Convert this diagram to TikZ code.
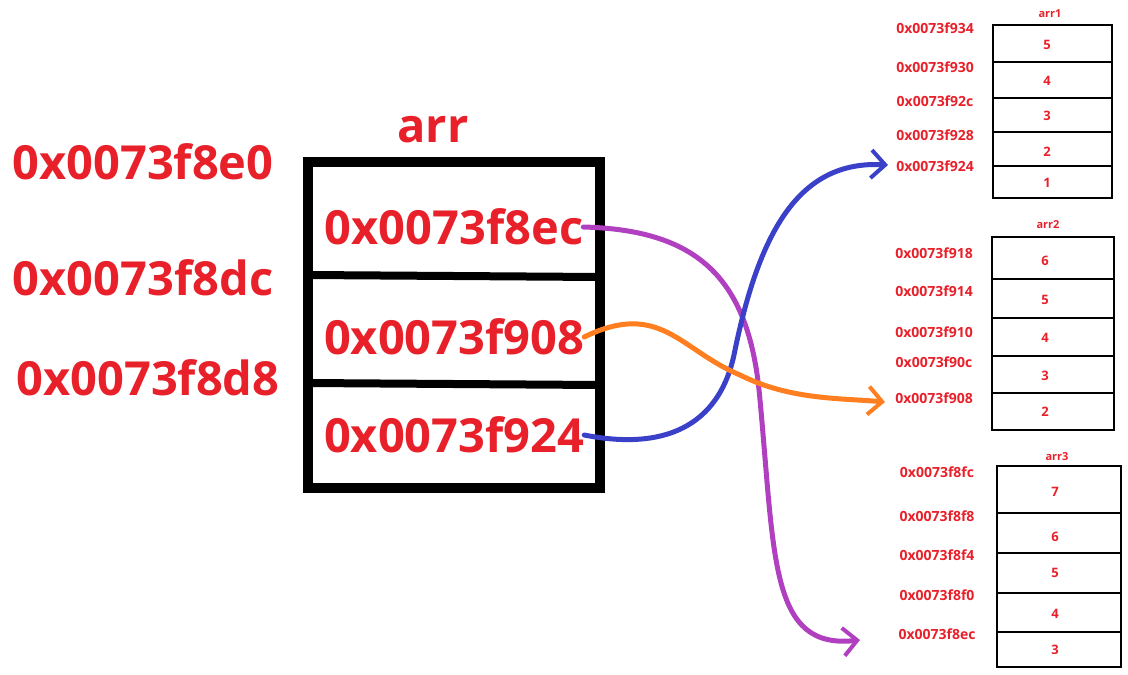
\documentclass[tikz,border=0pt]{standalone}
\usepackage{fontspec}
\setmainfont{Open Sans}
\usetikzlibrary{arrows.meta}
\definecolor{rd}{HTML}{E8202A}
\definecolor{pu}{HTML}{B040C0}
\definecolor{bl}{HTML}{3A40C8}
\definecolor{og}{HTML}{FF7F20}
\tikzset{
 big/.style={text=rd,font=\bfseries\fontsize{47}{50}\selectfont,inner sep=0pt},
 addr/.style={text=rd,font=\bfseries\fontsize{14}{16}\selectfont},
 val/.style={text=rd,font=\bfseries\fontsize{13}{14}\selectfont},
 ttl/.style={text=rd,font=\bfseries\fontsize{11}{12}\selectfont},
 cell/.style={draw=black,line width=2.5pt},
 curve/.style={line width=5pt,line cap=round,-{Straight Barb[length=14pt,width=28pt,line width=4pt]}}
}
\begin{document}
\begin{tikzpicture}[x=1pt,y=-1pt]
\useasboundingbox (0,0) rectangle (1128,675);
% main box
\draw[line width=10pt] (308,162) rectangle (600,488);
\draw[line width=8pt] (308,275) -- (600,277);
\draw[line width=8pt] (308,383) -- (600,385);
\node[big] (arr) at (433,130) {arr};
\node[big] (m1) at (454,227) {0x0073f8ec};
\node[big] (m2) at (454,337) {0x0073f908};
\node[big] (m3) at (454,435) {0x0073f924};
\node[big] at (143,162) {0x0073f8e0};
\node[big] at (143,278) {0x0073f8dc};
\node[big] at (148,378) {0x0073f8d8};
% arr1
\draw[cell] (993,25) rectangle (1112,198);
\foreach \y in {62,98,132,166} \draw[cell] (993,\y) -- (1112,\y);
\node[ttl] at (1050,14) {arr1};
\foreach \v/\y in {5/45,4/81,3/116,2/152,1/183} \node[val] at (1047,\y) {\v};
\foreach \a/\y in {934/28,930/67,92c/101,928/135,924/166} \node[addr] at (935,\y) {0x0073f\a};
\coordinate (t1) at (888,165);
% arr2
\draw[cell] (992,237) rectangle (1114,430);
\foreach \y in {279,318,356,393} \draw[cell] (992,\y) -- (1114,\y);
\node[ttl] at (1048,225) {arr2};
\foreach \v/\y in {6/261,5/300,4/338,3/376,2/412} \node[val] at (1045,\y) {\v};
\foreach \a/\y in {918/253,914/291,910/332,90c/362,908/398} \node[addr] at (934,\y) {0x0073f\a};
\coordinate (t2) at (885,402);
% arr3
\draw[cell] (997,466) rectangle (1121,667);
\foreach \y in {513,553,593,632} \draw[cell] (997,\y) -- (1121,\y);
\node[ttl] at (1057,457) {arr3};
\foreach \v/\y in {7/492,6/537,5/573,4/614,3/650} \node[val] at (1055,\y) {\v};
\foreach \a/\y in {8fc/472,8f8/516,8f4/555,8f0/595,8ec/634} \node[addr] at (937,\y) {0x0073f\a};
\coordinate (t3) at (860,640);
% curves
\draw[curve,pu] (m1.east) .. controls (700,230) and (750,280) .. (760,400) .. controls (775,560) and (770,650) .. (t3);
\draw[curve,bl] (m3.east) .. controls (660,450) and (720,430) .. (735,350) .. controls (760,230) and (800,160) .. (t1);
\draw[curve,og] (m2.east) .. controls (660,300) and (680,350) .. (740,375) .. controls (790,400) and (840,398) .. (t2);
\end{tikzpicture}
\end{document}
